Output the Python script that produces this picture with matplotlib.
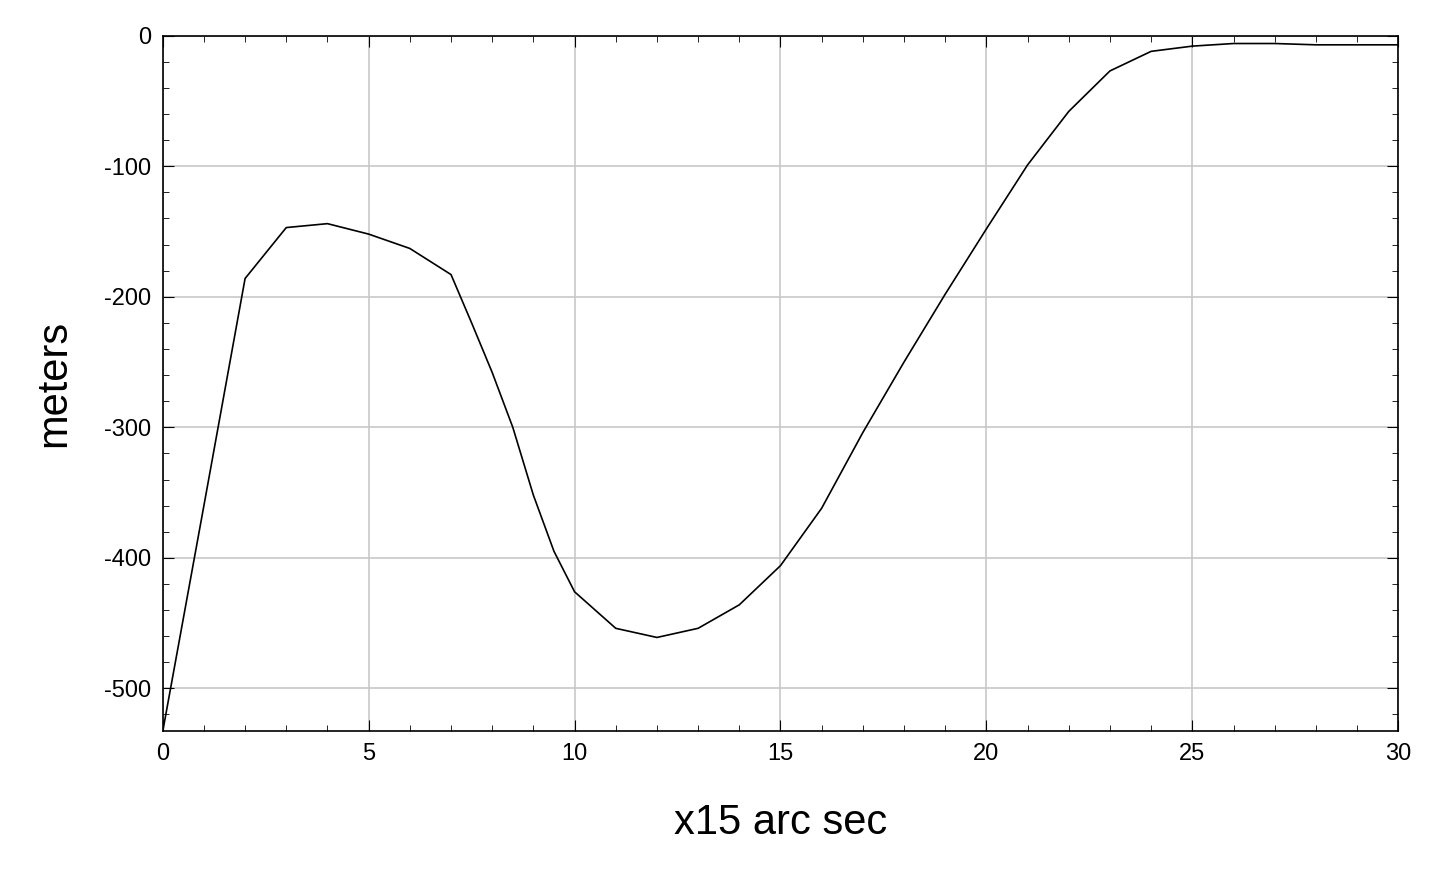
import matplotlib.pyplot as plt
from matplotlib.ticker import MultipleLocator

plt.rcParams['font.family'] = ['Liberation Sans', 'DejaVu Sans']
plt.rcParams['axes.unicode_minus'] = False

# values
x = [0, 1, 2, 3, 4, 5, 6, 7, 7.5, 8, 8.5, 9, 9.5, 10, 11, 12, 13, 14, 15,
     16, 17, 18, 19, 20, 21, 22, 23, 24, 25, 26, 27, 28, 29, 30]
depth = [-533, -360, -186, -147, -144, -152, -163, -183, -220, -258, -300,
         -352, -395, -426, -454, -461, -454, -436, -406, -362, -304, -250,
         -198, -148, -99, -58, -27, -12, -8, -6, -6, -7, -7, -7]

fig = plt.figure(figsize=(14.4, 8.92), dpi=100)
ax = fig.add_axes([0.113, 0.18, 0.858, 0.78])
ax.plot(x, depth, color='black', linewidth=1.2)

ax.set_xlim(0, 30)
ax.set_ylim(-533, 0)
ax.xaxis.set_major_locator(MultipleLocator(5))
ax.xaxis.set_minor_locator(MultipleLocator(1))
ax.yaxis.set_major_locator(MultipleLocator(100))
ax.yaxis.set_minor_locator(MultipleLocator(20))
ax.grid(True, which='major', color='#c8c8c8', linewidth=1.2)
ax.tick_params(which='both', direction='in', top=True, right=True, labelsize=17)
ax.tick_params(which='major', length=8, pad=8)
ax.tick_params(which='minor', length=4)
for s in ax.spines.values():
    s.set_linewidth(1.2)

ax.set_xlabel('x15 arc sec', fontsize=30, labelpad=28)
ax.set_ylabel('meters', fontsize=30, labelpad=22)

fig.savefig('out.png', dpi=100)
